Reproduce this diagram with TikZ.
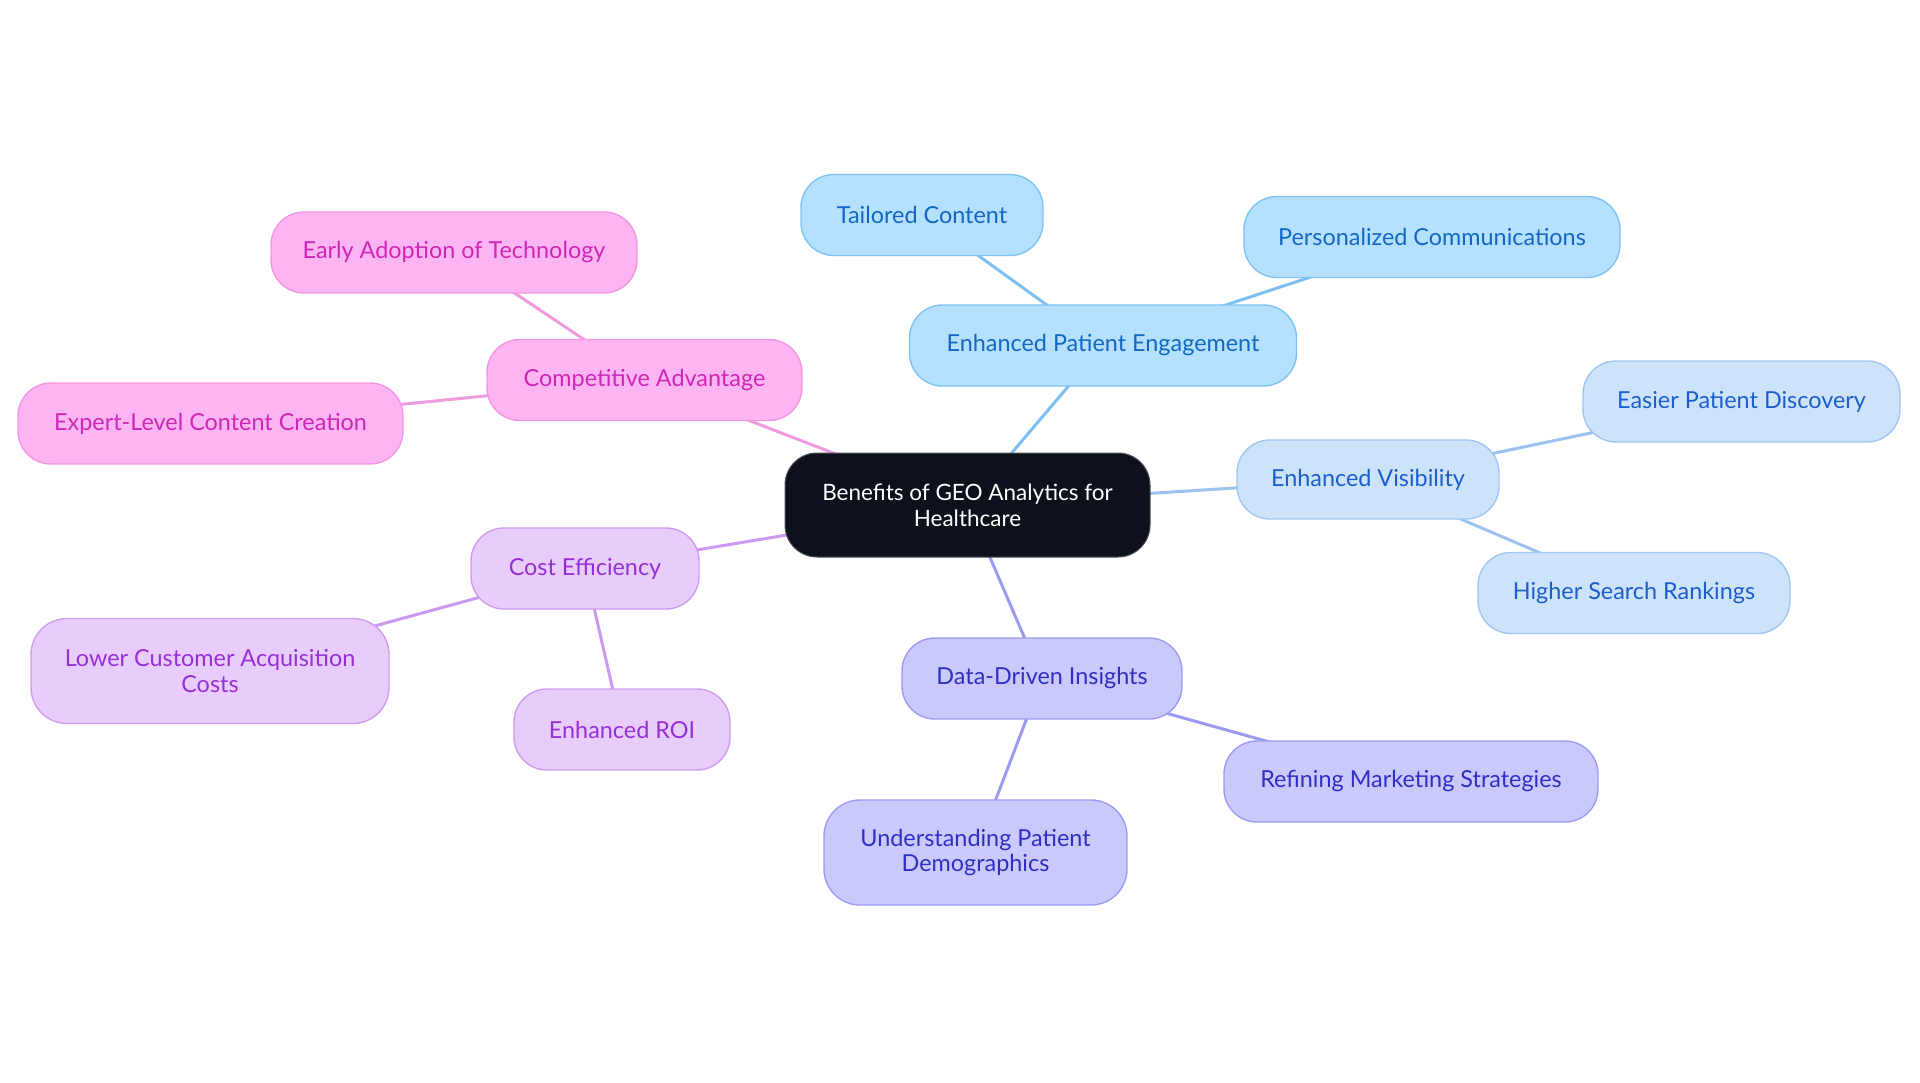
\documentclass[tikz,border=0pt]{standalone}
\usepackage{fontspec}
\setmainfont{Lato}
\usetikzlibrary{backgrounds}
\definecolor{cfill}{HTML}{0C111B}
\definecolor{cdraw}{HTML}{4A4F58}
\definecolor{bfill}{HTML}{B5E0FE}
\definecolor{bdraw}{HTML}{7EC3F3}
\definecolor{btext}{HTML}{1268C4}
\definecolor{bline}{HTML}{7DBFF0}
\definecolor{vfill}{HTML}{CDE3FA}
\definecolor{vdraw}{HTML}{A0C6F2}
\definecolor{vtext}{HTML}{1D5ECF}
\definecolor{vline}{HTML}{9CC3F0}
\definecolor{dfill}{HTML}{C9C9FC}
\definecolor{ddraw}{HTML}{9C9CF2}
\definecolor{dtext}{HTML}{2F2FC6}
\definecolor{dline}{HTML}{9A9AF0}
\definecolor{efill}{HTML}{E8CCFB}
\definecolor{edraw}{HTML}{CF9DF0}
\definecolor{etext}{HTML}{9630D6}
\definecolor{eline}{HTML}{CC99F0}
\definecolor{pfill}{HTML}{FDB4F3}
\definecolor{pdraw}{HTML}{F296E2}
\definecolor{ptext}{HTML}{CE27B6}
\definecolor{pline}{HTML}{F09AE0}
\tikzset{
  box/.style={rounded corners=33pt, minimum height=81pt, line width=1.4pt,
    align=center, inner sep=0pt, font=\fontsize{23.4}{25.7}\selectfont},
  tallbox/.style={box, minimum height=105pt, rounded corners=36pt},
  bbox/.style={box, fill=bfill, draw=bdraw, text=btext},
  vbox/.style={box, fill=vfill, draw=vdraw, text=vtext},
  dbox/.style={box, fill=dfill, draw=ddraw, text=dtext},
  ebox/.style={box, fill=efill, draw=edraw, text=etext},
  pbox/.style={box, fill=pfill, draw=pdraw, text=ptext},
  conn/.style={line width=3pt},
}
\begin{document}
\begin{tikzpicture}[x=1pt,y=-1pt]
\useasboundingbox (0,0) rectangle (1920,1083);
% center
\node[box, minimum width=365pt, minimum height=104pt, rounded corners=32pt, fill=cfill, draw=cdraw, line width=1pt, text=white, font=\fontsize{22.5}{25.7}\selectfont] (c) at (967.5,505) {Benefits of GEO Analytics for\\Healthcare};
% engagement branch
\node[bbox, minimum width=387pt] (epe) at (1103,345.5) {Enhanced Patient Engagement};
\node[bbox, minimum width=242pt] (tc) at (922,215) {Tailored Content};
\node[bbox, minimum width=376pt] (pc) at (1432,237) {Personalized Communications};
% visibility branch
\node[vbox, minimum width=262pt, minimum height=79pt] (ev) at (1368,479.5) {Enhanced Visibility};
\node[vbox, minimum width=317pt] (epd) at (1741.5,401.5) {Easier Patient Discovery};
\node[vbox, minimum width=312pt] (hsr) at (1634,593) {Higher Search Rankings};
% data branch
\node[dbox, minimum width=280pt] (ddi) at (1042,678.5) {Data-Driven Insights};
\node[dbox, minimum width=374pt] (rms) at (1411,781.5) {Refining Marketing Strategies};
\node[dbox, tallbox, minimum width=303pt, fill=dfill, draw=ddraw, text=dtext] (upd) at (975.5,852.5) {Understanding Patient\\Demographics};
% cost branch
\node[ebox, minimum width=228pt] (ce) at (585,568.5) {Cost Efficiency};
\node[ebox, tallbox, minimum width=358pt, fill=efill, draw=edraw, text=etext] (lcac) at (210,671) {Lower Customer Acquisition\\Costs};
\node[ebox, minimum width=216pt] (roi) at (622,729.5) {Enhanced ROI};
% competitive branch
\node[pbox, minimum width=315pt] (ca) at (644.5,380) {Competitive Advantage};
\node[pbox, minimum width=366pt] (ea) at (454,252.5) {Early Adoption of Technology};
\node[pbox, minimum width=385pt] (elc) at (210.5,423.5) {Expert-Level Content Creation};
\begin{scope}[on background layer]
\draw[conn, bline] (c.center) -- (epe.center);
\draw[conn, bline] (epe.center) -- (tc.center);
\draw[conn, bline] (epe.center) -- (pc.center);
\draw[conn, vline] (c.center) -- (ev.center);
\draw[conn, vline] (ev.center) -- (epd.center);
\draw[conn, vline] (ev.center) -- (hsr.center);
\draw[conn, dline] (c.center) -- (ddi.center);
\draw[conn, dline] (ddi.center) -- (rms.center);
\draw[conn, dline] (ddi.center) -- (upd.center);
\draw[conn, eline] (c.center) -- (ce.center);
\draw[conn, eline] (ce.center) -- (lcac.center);
\draw[conn, eline] (ce.center) -- (roi.center);
\draw[conn, pline] (c.center) -- (ca.center);
\draw[conn, pline] (ca.center) -- (ea.center);
\draw[conn, pline] (ca.center) -- (elc.center);
\end{scope}
\end{tikzpicture}
\end{document}
